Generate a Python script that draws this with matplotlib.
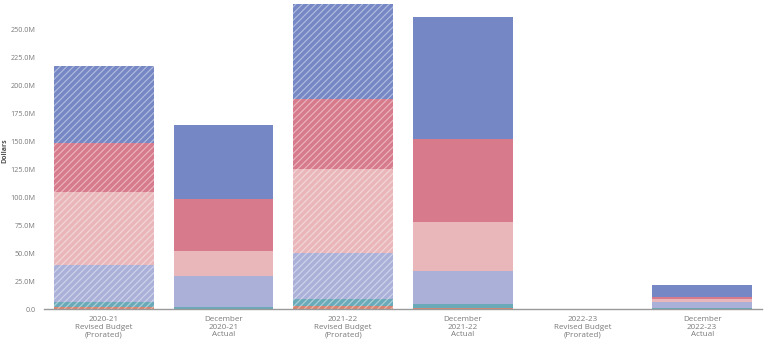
import matplotlib.pyplot as plt
import numpy as np

plt.rcParams['font.family'] = ['Open Sans', 'DejaVu Sans']
plt.rcParams['hatch.linewidth'] = 0.9

categories = [
    "2020-21\nRevised Budget\n(Prorated)",
    "December\n2020-21\nActual",
    "2021-22\nRevised Budget\n(Prorated)",
    "December\n2021-22\nActual",
    "2022-23\nRevised Budget\n(Prorated)",
    "December\n2022-23\nActual",
]
is_budget = [True, False, True, False, True, False]

# stacked series, bottom to top, values in millions of dollars
salmon = [2.0, 0.0, 2.7, 0.5, 0.0, 0.0]
teal = [4.0, 1.5, 6.5, 4.0, 0.0, 0.5]
light_blue = [33.0, 28.0, 40.8, 29.5, 0.0, 6.0]
pink = [65.5, 22.5, 75.0, 44.0, 0.0, 2.0]
red = [43.5, 46.0, 63.0, 74.0, 0.0, 2.2]
blue = [69.0, 66.0, 84.0, 109.0, 0.0, 10.7]

series = [salmon, teal, light_blue, pink, red, blue]
colors = ['#d9836f', '#6aaab8', '#aab0d8', '#e9b6ba', '#d77a8b', '#7587c4']

fig = plt.figure(figsize=(7.68, 3.52), dpi=100)
ax = fig.add_axes([44 / 768, 43 / 352, 718 / 768, 309 / 352])

x = np.arange(len(categories))
bottom = np.zeros(len(categories))
for vals, col in zip(series, colors):
    vals = np.array(vals)
    for i in range(len(categories)):
        if vals[i] <= 0:
            continue
        if is_budget[i]:
            ax.bar(x[i], vals[i], 0.835, bottom=bottom[i], color=col,
                   hatch='/////', edgecolor=(1, 1, 1, 0.42), linewidth=0)
        else:
            ax.bar(x[i], vals[i], 0.835, bottom=bottom[i], color=col, linewidth=0)
    bottom += vals

ax.set_xlim(-0.5, 5.5)
ax.set_ylim(0, 276)
yt = np.arange(0, 251, 25)
ax.set_yticks(yt)
ax.set_yticklabels(["0.0" if v == 0 else f"{v:.1f}M" for v in yt])
ax.set_xticks(x)
ax.set_xticklabels(categories, linespacing=1.15)
ax.tick_params(axis='y', length=0, pad=6, labelsize=5.2, labelcolor='#7a7a7a')
ax.tick_params(axis='x', length=0, pad=5, labelsize=5.8, labelcolor='#7a7a7a')

for s in ['top', 'right', 'left']:
    ax.spines[s].set_visible(False)
ax.spines['bottom'].set_color('#999999')
ax.spines['bottom'].set_linewidth(1.0)

fig.text(5 / 768, 1 - 151 / 352, "Dollars", rotation=90, ha='center', va='center',
         fontsize=5, fontweight='bold', color='#555555')

fig.savefig('out.png', dpi=100)
